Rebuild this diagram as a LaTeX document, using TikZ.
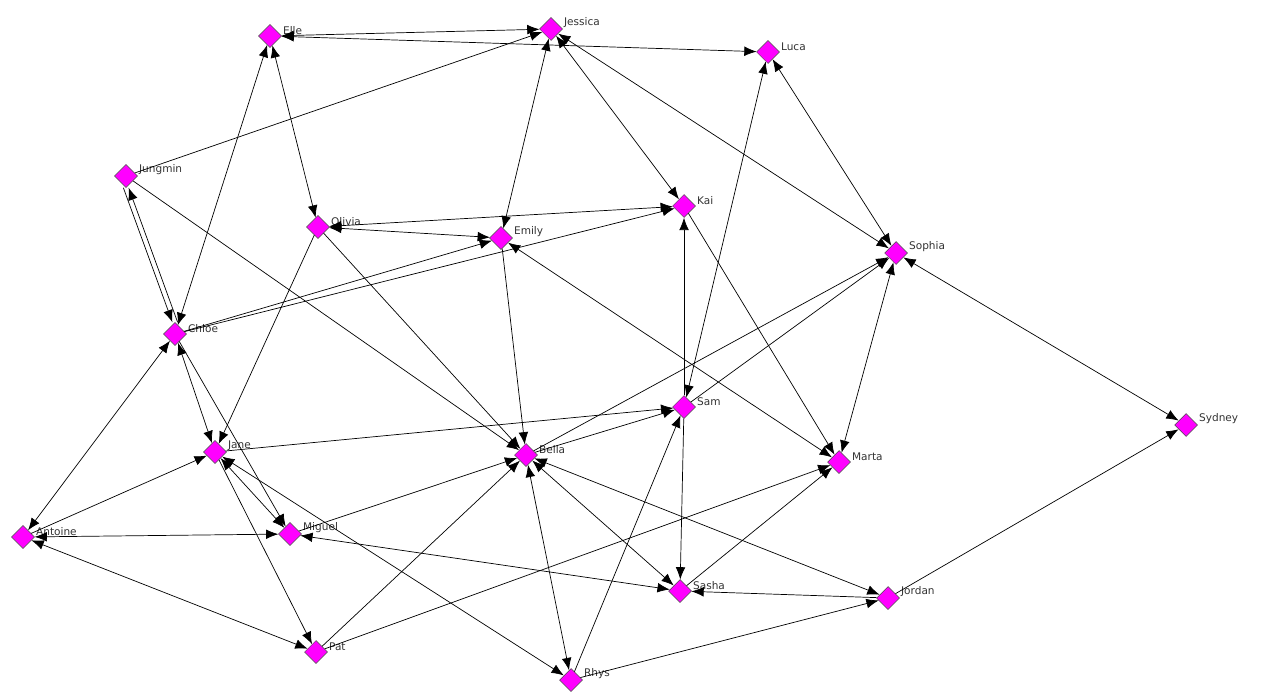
\documentclass[tikz,border=0pt]{standalone}
\usepackage{fontspec}
\setmainfont{DejaVu Sans}
\usetikzlibrary{shapes.geometric,arrows.meta}
\definecolor{nodemag}{RGB}{255,0,255}
\begin{document}
\begin{tikzpicture}[x=0.02cm,y=-0.02cm,
  nd/.style={diamond,fill=nodemag,draw=black!70,line width=0.3pt,minimum size=0.46cm,inner sep=0pt},
  lb/.style={font=\fontsize{6}{7}\selectfont,anchor=south west,inner sep=1pt,text=black!80},
  e/.style={-{Latex[length=7pt,width=5.5pt]},line width=0.4pt},
  b/.style={{Latex[length=7pt,width=5.5pt]}-{Latex[length=7pt,width=5.5pt]},line width=0.4pt}]
\useasboundingbox (0,0) rectangle (1280,699);
\foreach \n/\x/\y in {Elle/270/36,Jessica/551/29,Luca/768/52,Jungmin/126/176,Olivia/318/227,Kai/684/206,Emily/501/238,Sophia/896/253,Chloe/175/334,Sam/684/407,Sydney/1186/425,Jane/215/452,Bella/526/455,Marta/839/462,Antoine/23/537,Miguel/290/534,Sasha/680/591,Jordan/888/598,Pat/316/652,Rhys/571/680}{
  \node[nd] (\n) at (\x,\y) {};
  \node[lb] at (\x+11,\y+1) {\n};
}
\foreach \a/\c in {Elle/Jessica,Elle/Luca,Jessica/Emily,Jessica/Kai,Jessica/Sophia,Elle/Olivia,Elle/Chloe,Olivia/Emily,Olivia/Kai,Emily/Marta,Luca/Sam,Luca/Sophia,Sophia/Marta,Sophia/Sydney,Chloe/Jane,Chloe/Antoine,Antoine/Miguel,Antoine/Pat,Jane/Miguel,Jane/Rhys,Miguel/Sasha,Bella/Rhys,Bella/Sasha,Bella/Jordan}
  \draw[b] (\a) -- (\c);
\foreach \a/\c in {Jungmin/Jessica,Jungmin/Bella,Olivia/Jane,Olivia/Bella,Chloe/Emily,Chloe/Kai,Emily/Bella,Sam/Kai,Kai/Marta,Bella/Sophia,Sam/Sophia,Bella/Sam,Jane/Sam,Sam/Sasha,Rhys/Sam,Chloe/Miguel,Antoine/Jane,Jane/Pat,Miguel/Bella,Pat/Bella,Pat/Marta,Sasha/Marta,Jordan/Sasha,Rhys/Jordan,Jordan/Sydney}
  \draw[e] (\a) -- (\c);
\draw[e] ([xshift=-1.5pt]Jungmin.south) -- ([xshift=-1.5pt]Chloe.north);
\draw[e] ([xshift=1.5pt]Chloe.north) -- ([xshift=1.5pt]Jungmin.south);
\end{tikzpicture}
\end{document}
